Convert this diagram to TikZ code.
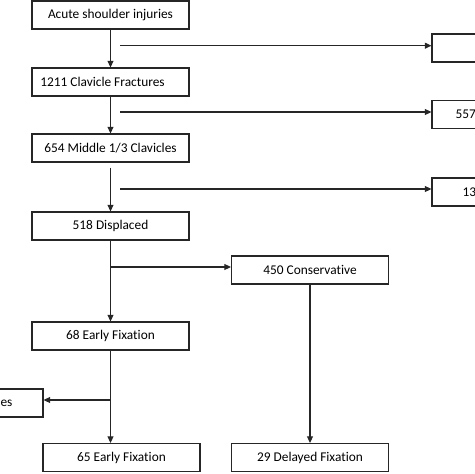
\documentclass[tikz,border=0pt]{standalone}
\usepackage{fontspec}
\setmainfont[Ligatures=NoCommon]{Carlito}
\usetikzlibrary{arrows.meta,positioning,calc}
\tikzset{
    caixa/.style={
        rectangle,
        draw=black!85,
        line width=0.9pt,
        fill=white,
        align=center,
        minimum width=4.71cm,
        minimum height=0.84cm,
        inner sep=3pt
    },
    fluxo/.style={-{Triangle[length=2mm,width=1.8mm]}, line width=0.9pt, draw=black!85},
    fragmento/.style={font=\fontsize{11.4}{13}\selectfont}
}

\begin{document}
\begin{tikzpicture}[
        x=0.03cm, y=-0.03cm,
        every node/.style={font=\fontsize{11.4}{13}\selectfont}
    ]
        \useasboundingbox (0,0) rectangle (474,474);

        % coluna principal
        \node[caixa] (lesoes) at (110.5,15) {Acute shoulder injuries};
        \node[caixa] (fraturas) at (110.5,82) {1211 Clavicle Fractures\hspace{1.2em}};
        \node[caixa] (medio) at (110.5,148) {654 Middle 1/3 Clavicles};
        \node[caixa] (desviadas) at (110.5,226) {518 Displaced};
        \node[caixa] (precoce) at (110.5,336) {68 Early Fixation};
        \node[caixa] (conserv) at (310,270) {450 Conservative};
        \node[caixa] (precoceFim) at (121.5,457.5) {65 Early Fixation};
        \node[caixa] (tardia) at (310,457.5) {29 Delayed Fixation};

        % caixas cortadas nas bordas
        \node[caixa] (excl1) at (510.5,48) {};
        \node[caixa, label={[fragmento, anchor=west, xshift=0.6cm]west:557}] (excl2) at (510.5,114.5) {};
        \node[caixa, label={[fragmento, anchor=west, xshift=0.81cm]west:13}] (excl3) at (510.5,192) {};
        \node[caixa, label={[fragmento, anchor=east, xshift=-0.81cm]east:es}] (compl) at (-35.5,403) {};

        \coordinate (s1) at (120,45.7);
        \coordinate (s2) at (120,112);
        \coordinate (s3) at (120,189);
        \coordinate (r1) at (110.5,267);
        \coordinate (r2) at (110.5,400);

        \draw[fluxo] (lesoes) -- (fraturas);
        \draw[fluxo] (fraturas) -- (medio);
        \draw[fluxo, shorten <=0.15cm] (medio) -- (desviadas);
        \draw[fluxo] (desviadas) -- (precoce);
        \draw[fluxo] (precoce.south) -- (precoce.south |- precoceFim.north);
        \draw[fluxo] (conserv) -- (tardia);

        \draw[fluxo] (s1) -- (s1 -| excl1.west);
        \draw[fluxo] (s2) -- (s2 -| excl2.west);
        \draw[fluxo] (s3) -- (s3 -| excl3.west);
        \draw[fluxo] (r1) -- (r1 -| conserv.west);
        \draw[fluxo] (r2) -- (r2 -| compl.east);
    \end{tikzpicture}
\end{document}
